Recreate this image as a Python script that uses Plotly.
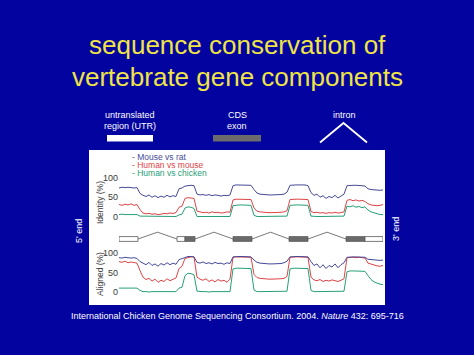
import plotly.graph_objects as go

W, H = 474, 355

# ---------------- data ----------------
pos = list(range(0, 265, 3))  # position along the gene (arbitrary units)

identity_mouse_rat = [74, 76, 75, 76, 75, 74, 75,
    60,
    55, 52, 56, 50, 54, 49, 53, 50, 55, 51, 54, 52,
    72, 74,
    79, 80, 81, 80,
    58, 56, 57, 55, 57, 54, 56, 55, 53, 55, 54, 56,
    80, 82, 82, 82, 82, 82, 81,
    70, 61, 58, 57, 56, 56, 56, 56, 56, 57, 58, 63,
    81, 82, 82, 82, 82, 82, 80,
    62, 55, 58, 50, 54, 47, 52, 49, 55, 48, 53, 58,
    80, 81, 81, 81, 81, 80, 79,
    72, 70, 69, 68, 68, 69]

identity_human_mouse = [31, 29, 32, 30, 33, 29, 31,
    18,
    9, 7, 8, 6, 7, 5, 6, 8, 7, 9, 8, 10,
    24, 27,
    47, 49, 48, 47,
    14, 12, 10, 11, 9, 12, 10, 11, 9, 10, 12, 11,
    43, 45, 45, 45, 45, 45, 44,
    22, 14, 12, 11, 10, 10, 10, 10, 11, 11, 12, 15,
    44, 45, 45, 45, 45, 45, 44,
    13, 10, 11, 9, 10, 8, 10, 9, 11, 9, 10, 12,
    42, 44, 41, 43, 40, 42, 39,
    33, 30, 29, 28, 29, 31]

identity_human_chicken = [5, 6, 5, 5, 6, 5, 5,
    1,
    1, 0, 0, 1, 0, 0, 0, 1, 0, 0, 0, 0,
    4, 6,
    22, 25, 24, 21,
    0, 0, 1, 0, 0, 0, 0, 0, 1, 0, 0, 0,
    28, 30, 30, 30, 30, 30, 29,
    3, 0, 0, 0, 0, 0, 0, 0, 0, 0, 0, 1,
    29, 30, 30, 30, 30, 30, 29,
    1, 0, 0, 0, 0, 0, 0, 0, 0, 0, 0, 1,
    27, 25, 28, 24, 26, 23, 25,
    17, 12, 9, 7, 5, 5]

aligned_mouse_rat = [88, 87, 89, 88, 87, 88, 86,
    78,
    74, 70, 76, 68, 72, 66, 73, 69, 75, 70, 74, 71,
    83, 86,
    90, 91, 91, 90,
    76, 74, 77, 73, 75, 72, 76, 73, 74, 71, 75, 73,
    90, 91, 91, 91, 91, 91, 90,
    82, 76, 74, 73, 72, 72, 72, 72, 73, 73, 75, 79,
    90, 91, 91, 91, 91, 91, 90,
    78, 68, 72, 62, 70, 60, 68, 64, 72, 62, 70, 75,
    89, 90, 90, 90, 90, 89, 89,
    84, 83, 82, 82, 81, 82]

aligned_human_mouse = [78, 76, 79, 75, 77, 76, 74,
    55,
    38, 32, 35, 28, 33, 25, 30, 27, 34, 29, 32, 36,
    60, 66,
    86, 89, 90, 90,
    38, 33, 30, 34, 27, 31, 26, 32, 28, 30, 25, 33,
    89, 90, 90, 90, 90, 90, 89,
    45, 37, 35, 34, 33, 33, 33, 33, 34, 34, 35, 40,
    89, 90, 90, 90, 90, 90, 89,
    38, 31, 29, 32, 27, 30, 28, 31, 29, 27, 30, 34,
    88, 89, 89, 88, 89, 88, 87,
    74, 71, 68, 67, 66, 68]

aligned_human_chicken = [10, 10, 11, 10, 10, 11, 10,
    4,
    1, 1, 0, 1, 1, 0, 1, 1, 0, 1, 1, 1,
    10, 12,
    42, 48, 47, 44,
    2, 1, 1, 1, 0, 1, 1, 1, 1, 0, 1, 1,
    59, 61, 61, 61, 61, 61, 60,
    5, 1, 1, 1, 1, 1, 1, 1, 1, 1, 1, 2,
    59, 61, 61, 61, 61, 61, 60,
    4, 1, 1, 1, 1, 1, 1, 1, 1, 1, 1, 2,
    52, 54, 54, 54, 54, 54, 53,
    42, 32, 26, 22, 20, 19]

series_names = ["Mouse vs rat", "Human vs mouse", "Human vs chicken"]
series_colors = ["#464a96", "#de4446", "#27a077"]

exon_start = [0, 58, 66, 114, 170, 227, 246]
exon_end = [19, 66, 76, 133, 189, 246, 264]
exon_type = ["UTR", "UTR", "CDS", "CDS", "CDS", "CDS", "UTR"]

y_ticks = [0, 50, 100]

# ---------------- layout helpers ----------------
def px_x(x):
    return x / W

def px_y(y):
    return 1 - y / H

BG = "#0303a0"
YEL = "#efe446"
GRAY = "#6b6b6b"
X_DOM = [px_x(119), px_x(383)]

fig = go.Figure()

# curves
top = [identity_mouse_rat, identity_human_mouse, identity_human_chicken]
bot = [aligned_mouse_rat, aligned_human_mouse, aligned_human_chicken]
order = [1, 0, 2]
for i in order:
    fig.add_trace(go.Scatter(x=pos, y=top[i], mode="lines", xaxis="x", yaxis="y",
                             line=dict(color=series_colors[i], width=1), showlegend=False,
                             hoverinfo="skip"))
for i in order:
    fig.add_trace(go.Scatter(x=pos, y=bot[i], mode="lines", xaxis="x3", yaxis="y3",
                             line=dict(color=series_colors[i], width=1), showlegend=False,
                             hoverinfo="skip"))

# gene structure: introns
box_h = 0.22
apex = 0.62
for k in range(len(exon_start) - 1):
    a, b = exon_end[k], exon_start[k + 1]
    if b > a:
        fig.add_trace(go.Scatter(x=[a, (a + b) / 2, b], y=[0, apex, 0], mode="lines",
                                 xaxis="x2", yaxis="y2", line=dict(color="#7a7a7a", width=1),
                                 showlegend=False, hoverinfo="skip"))
# exons
for s, e, t in zip(exon_start, exon_end, exon_type):
    fill = "white" if t == "UTR" else GRAY
    fig.add_trace(go.Scatter(x=[s, e, e, s, s], y=[-box_h, -box_h, box_h, box_h, -box_h],
                             mode="lines", fill="toself", fillcolor=fill,
                             xaxis="x2", yaxis="y2", line=dict(color="#5a5a5a", width=0.8),
                             showlegend=False, hoverinfo="skip"))

# axes
def ydom(top_px, bot_px):
    return [px_y(bot_px), px_y(top_px)]

# identity: 100 at 178px, 0 at 216.5px
s1 = (216.5 - 178) / 100
r1 = [-(221 - 216.5) / s1, 100 + (178 - 170) / s1]
# aligned: 100 at 253px, 0 at 292px
s3 = (292 - 253) / 100
r3 = [-(297 - 292) / s3, 100 + (253 - 245) / s3]

common_x = dict(domain=X_DOM, range=[0, 264], visible=False, fixedrange=True)
ytick_style = dict(tickvals=y_ticks, ticktext=[str(v) for v in y_ticks], showgrid=False,
                   zeroline=False, showline=False, ticks="", ticklen=0,
                   tickfont=dict(family="Liberation Sans, Arial", size=9, color="#3a3a3a"))

fig.update_layout(
    width=W, height=H,
    margin=dict(l=0, r=0, t=0, b=0),
    paper_bgcolor=BG, plot_bgcolor="rgba(0,0,0,0)",
    xaxis=dict(**common_x, anchor="y"),
    xaxis2=dict(**common_x, anchor="y2"),
    xaxis3=dict(**common_x, anchor="y3"),
    yaxis=dict(domain=ydom(170, 221), range=r1, anchor="x", **ytick_style),
    yaxis2=dict(domain=ydom(228, 250), range=[-1, 1], anchor="x2", visible=False),
    yaxis3=dict(domain=ydom(245, 297), range=r3, anchor="x3", **ytick_style),
)

shapes = []
# white panel
shapes.append(dict(type="rect", xref="paper", yref="paper", layer="below",
                   x0=px_x(89), x1=px_x(385), y0=px_y(305), y1=px_y(150),
                   fillcolor="white", line=dict(width=0)))
# key glyphs
shapes.append(dict(type="rect", xref="paper", yref="paper",
                   x0=px_x(107), x1=px_x(153), y0=px_y(141.5), y1=px_y(135),
                   fillcolor="white", line=dict(width=0)))
shapes.append(dict(type="rect", xref="paper", yref="paper",
                   x0=px_x(213), x1=px_x(261), y0=px_y(141.5), y1=px_y(135),
                   fillcolor=GRAY, line=dict(width=0)))
shapes.append(dict(type="path", xref="paper", yref="paper",
                   path=f"M {px_x(320)} {px_y(142.5)} L {px_x(343.5)} {px_y(123)} L {px_x(367)} {px_y(142.5)}",
                   line=dict(color="white", width=1.8)))
fig.update_layout(shapes=shapes)

FONT = "Liberation Sans, Arial, sans-serif"

def ann(text, x, y, size, color, xanchor="center", angle=0):
    fig.add_annotation(text=text, x=px_x(x), y=px_y(y), xref="paper", yref="paper",
                       showarrow=False, xanchor=xanchor, yanchor="middle", textangle=angle,
                       borderpad=0, font=dict(family=FONT, size=size, color=color))

# title
ann("sequence conservation of", 237, 45, 26, YEL)
ann("vertebrate gene components", 237, 77, 26, YEL)
# key labels
ann("untranslated", 130, 115, 9, "white")
ann("region (UTR)", 130, 126, 9, "white")
ann("CDS", 237, 115, 9, "white")
ann("exon", 237, 126, 9, "white")
ann("intron", 344, 115, 9, "white")
# series legend
for name, col, yy in zip(series_names, series_colors, [157.3, 165.2, 173.1]):
    ann("- " + name, 131, yy, 8.5, col, xanchor="left")
# axis titles
ann("Identity (%)", 100, 203, 8.5, "#3a3a3a", angle=-90)
ann("Aligned (%)", 100, 274, 8.5, "#3a3a3a", angle=-90)
# ends
ann("5' end", 79, 231, 9, "white", angle=-90)
ann("3' end", 396, 229, 9, "white", angle=-90)
# citation
ann("International Chicken Genome Sequencing Consortium. 2004. <i>Nature</i> 432: 695-716",
    237, 316, 9, "white")

fig.write_html("out.html")
